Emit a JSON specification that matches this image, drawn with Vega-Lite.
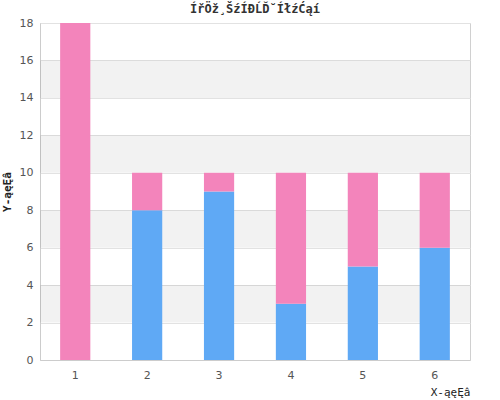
{
  "$schema": "https://vega.github.io/schema/vega-lite/v6.json",
  "autosize": "none",
  "width": 430,
  "height": 337,
  "padding": {"left": 40, "top": 23, "right": 30, "bottom": 40},
  "background": "white",
  "title": {
    "text": "ÍřÖž¸ŠźÍĐĹĎ˘ÍłźĆąí",
    "font": "DejaVu Sans Mono",
    "fontSize": 12,
    "fontWeight": "bold",
    "color": "#333333",
    "offset": 1
  },
  "config": {
    "view": {"stroke": "#d0d0d0"},
    "axisY": {
      "labelOverlap": false,
      "labelBound": false,
      "labelFlush": false,
      "titleFont": "DejaVu Sans Mono",
      "titleFontSize": 11,
      "titleFontWeight": "bold",
      "titleColor": "#222222",
      "titlePadding": 7,
      "labelFont": "DejaVu Sans",
      "labelFontSize": 11,
      "labelColor": "#555555",
      "labelPadding": 7,
      "ticks": false,
      "grid": true,
      "gridColor": "#e2e2e2",
      "domainColor": "#cccccc"
    }
  },
  "datasets": {
    "bands": [
      {"lo": 2, "hi": 4},
      {"lo": 6, "hi": 8},
      {"lo": 10, "hi": 12},
      {"lo": 14, "hi": 16}
    ],
    "bars": [
      {"x": "1", "series": "A", "value": 0},
      {"x": "1", "series": "B", "value": 18},
      {"x": "2", "series": "A", "value": 8},
      {"x": "2", "series": "B", "value": 2},
      {"x": "3", "series": "A", "value": 9},
      {"x": "3", "series": "B", "value": 1},
      {"x": "4", "series": "A", "value": 3},
      {"x": "4", "series": "B", "value": 7},
      {"x": "5", "series": "A", "value": 5},
      {"x": "5", "series": "B", "value": 5},
      {"x": "6", "series": "A", "value": 6},
      {"x": "6", "series": "B", "value": 4}
    ]
  },
  "layer": [
    {
      "data": {"name": "bands"},
      "mark": {"type": "rect", "color": "#000000", "opacity": 0.05},
      "encoding": {
        "y": {
          "field": "lo",
          "type": "quantitative",
          "scale": {"domain": [0, 18]},
          "axis": {"values": [0, 2, 4, 6, 8, 10, 12, 14, 16, 18], "title": "Y-ąęĘâ"}
        },
        "y2": {"field": "hi"}
      }
    },
    {
      "data": {"name": "bars"},
      "mark": {"type": "bar"},
      "encoding": {
        "x": {
          "field": "x",
          "type": "ordinal",
          "scale": {"paddingInner": 0.58, "paddingOuter": 0.28},
          "axis": {
            "title": "X-ąęĘâ",
            "titleAnchor": "end",
            "titleFont": "DejaVu Sans Mono",
            "titleFontSize": 11,
            "titleFontWeight": "normal",
            "titleColor": "#222222",
            "titlePadding": 6,
            "labelAngle": 0,
            "labelFont": "DejaVu Sans",
            "labelFontSize": 11,
            "labelColor": "#555555",
            "labelPadding": 9,
            "ticks": false,
            "domainColor": "#cccccc"
          }
        },
        "y": {
          "field": "value",
          "type": "quantitative",
          "stack": "zero",
          "scale": {"domain": [0, 18]},
          "axis": {"values": [0, 2, 4, 6, 8, 10, 12, 14, 16, 18], "title": "Y-ąęĘâ"}
        },
        "color": {
          "field": "series",
          "type": "nominal",
          "legend": null,
          "scale": {"domain": ["A", "B"], "range": ["#5fa9f5", "#f384bb"]}
        },
        "order": {"field": "series", "sort": "ascending"}
      }
    }
  ]
}
